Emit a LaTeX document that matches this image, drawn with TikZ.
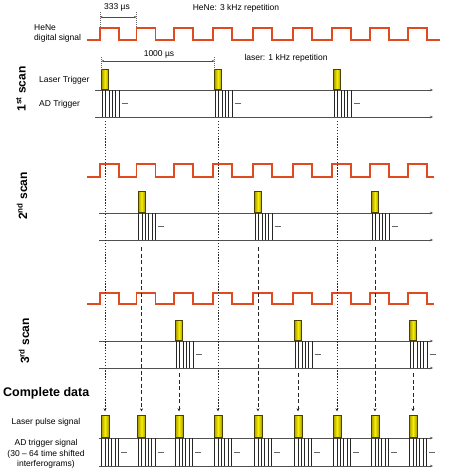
\documentclass[tikz,border=0pt]{standalone}
\usepackage{fontspec}
\setmainfont{Liberation Sans}
\usetikzlibrary{arrows.meta}
\definecolor{hene}{HTML}{E04A1E}
\definecolor{axgray}{HTML}{505050}
\definecolor{pulseedge}{HTML}{4A4000}
\definecolor{pulsedark}{HTML}{A89800}
\definecolor{pulselight}{HTML}{F6F000}
\newcommand\heneWave[3]{% low y, high y, end x
  \draw[wave] (87,#1) \foreach \r in {100,136.5,174,213,253,293,332,370,408} { -- (\r,#1) -- (\r,#2) -- ({\r+19},#2) -- ({\r+19},#1) } -- (#3,#1);
}
\newcommand\adBurst[3]{% left x, axis A y, axis B y
  \foreach \j in {0,...,5} \draw[adline] ({#1+0.5+3.4*\j},#2) -- ({#1+0.5+3.4*\j},#3);
  \draw[addash] ({#1+20},{(#2+#3)/2}) -- ({#1+26},{(#2+#3)/2});
}
\begin{document}
\begin{tikzpicture}[x=1pt,y=-1pt,
  wave/.style={draw=hene, line width=1.8pt, line join=miter},
  axisline/.style={draw=axgray, line width=0.8pt, -{Stealth[length=3pt,width=2.5pt]}},
  pulse/.style={draw=pulseedge, line width=0.7pt, left color=pulsedark, right color=pulsedark, middle color=pulselight, minimum width=7pt, minimum height=20pt, inner sep=0pt, anchor=south},
  adline/.style={draw=black!85, line width=0.6pt},
  addash/.style={draw=black!60, line width=0.5pt},
  dotconn/.style={draw=black!85, line width=0.9pt, dash pattern=on 1.3pt off 1.6pt, -{Stealth[length=3pt,width=3pt]}, shorten >=4pt},
  dashconn/.style={draw=black!85, line width=0.9pt, dash pattern=on 4pt off 2.5pt, -{Stealth[length=3pt,width=3pt]}, shorten >=4pt},
  lbl/.style={font=\fontsize{8.5}{9.5}\selectfont, inner sep=0pt},
  scanlbl/.style={font=\fontsize{12}{14}\selectfont\bfseries, rotate=90, inner sep=0pt},
  dim/.style={draw=black!70, line width=0.5pt, {Stealth[length=2.5pt,width=2pt]}-{Stealth[length=2.5pt,width=2pt]}},
  ext/.style={draw=black!60, line width=0.5pt, dash pattern=on 1pt off 1pt},
]
\useasboundingbox (0,0) rectangle (474,474);

% ---------- top labels ----------
\node[lbl] (t333) at (117,7) {333 µs};
\node[lbl] (thene) at (236,8) {HeNe: 3 kHz repetition};
\node[lbl] (t1000) at (159,54) {1000 µs};
\node[lbl] (tlaser) at (286,58) {laser: 1 kHz repetition};
\node[lbl, anchor=west, align=left] (tdig) at (34,33.5) {HeNe\\digital signal};

% ---------- 1st scan ----------
\heneWave{40}{28}{440}
\coordinate (d1a) at (100,12); \coordinate (d1b) at (136.5,12);
\draw[ext] (d1a) -- (100,28); \draw[ext] (d1b) -- (136.5,28);
\draw[dim] (100,17) -- (136.5,17);
\node[scanlbl] (scan1) at (21,89) {1\textsuperscript{st} scan};
\node[lbl, anchor=west] (tlt) at (39,80) {Laser Trigger};
\node[lbl, anchor=west] (tad) at (39,104) {AD Trigger};
\draw[axisline] (95,90) -- (433,90);
\draw[axisline] (95,117) -- (433,117);
\foreach \c/\n in {105/a,218/b,337/c}{
  \node[pulse] (s1\n) at (\c,90) {};
  \adBurst{\c-3.5}{90}{117}
  \coordinate (s1d\n) at (\c,121);
}
\draw[ext] (101.5,57) -- (101.5,70);
\draw[ext] (214.5,57) -- (214.5,70);
\draw[dim] (101.5,61) -- (214.5,61);

% ---------- 2nd scan ----------
\heneWave{177}{164}{434}
\node[scanlbl] (scan2) at (22,196) {2\textsuperscript{nd} scan};
\draw[axisline] (99,213) -- (433,213);
\draw[axisline] (99,240) -- (433,240);
\foreach \c/\n in {141.5/a,258/b,375/c}{
  \node[pulse, minimum height=21pt] (s2\n) at (\c,213) {};
  \adBurst{\c-3.5}{213}{240}
  \coordinate (s2d\n) at (\c,247);
}

% ---------- 3rd scan ----------
\heneWave{304}{293}{434}
\node[scanlbl] (scan3) at (24,341) {3\textsuperscript{rd} scan};
\draw[axisline] (99,341) -- (433,341);
\draw[axisline] (99,368) -- (433,368);
\foreach \c/\n in {179/a,298/b,413/c}{
  \node[pulse] (s3\n) at (\c,341) {};
  \adBurst{\c-3.5}{341}{368}
  \coordinate (s3d\n) at (\c,373);
}

% ---------- complete data ----------
\node[anchor=west, inner sep=0pt, font=\fontsize{12.5}{14}\selectfont\bfseries] (tcd) at (3,393) {Complete data};
\node[lbl] (tlps) at (46,422) {Laser pulse signal};
\node[lbl, align=center, font=\fontsize{8.5}{10.5}\selectfont] (tads) at (46,454) {AD trigger signal\\(30 -- 64 time shifted\\interferograms)};
\draw[axisline] (99,438) -- (433,438);
\draw[axisline] (99,466) -- (433,466);
\foreach \c [count=\k] in {105,141.5,179,218,258,298,337,375,413}{
  \node[pulse, minimum height=22pt, minimum width=8pt] (cp\k) at (\c,438) {};
  \adBurst{\c-4}{438}{466}
}

% ---------- connectors ----------
\draw[dotconn] (s1da) -- (cp1.north);
\draw[dotconn] (s1db) -- (cp4.north);
\draw[dotconn] (s1dc) -- (cp7.north);
\draw[dashconn] (s2da) -- (cp2.north);
\draw[dashconn] (s2db) -- (cp5.north);
\draw[dashconn] (s2dc) -- (cp8.north);
\draw[dashconn] (s3da) -- (cp3.north);
\draw[dashconn] (s3db) -- (cp6.north);
\draw[dashconn] (s3dc) -- (cp9.north);
\end{tikzpicture}
\end{document}
